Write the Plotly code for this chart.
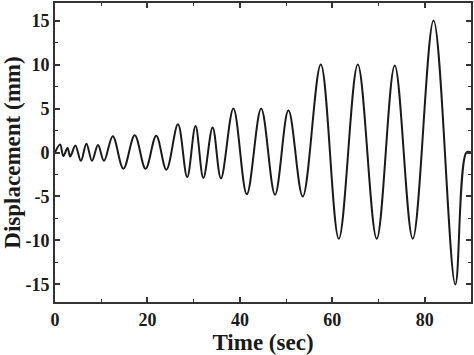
import plotly.graph_objects as go

# Extremes of the displacement history (time in sec, displacement in mm)
time_sec = [0.0, 1.1, 1.8, 2.7, 3.3, 4.4, 5.6, 6.8, 8.0, 9.3, 10.6,
            12.5, 14.8, 17.25, 19.6, 21.9, 24.1,
            26.6, 28.6, 30.4, 32.1, 34.1, 35.9,
            38.6, 41.5, 44.6, 47.6, 50.5, 53.6,
            57.5, 61.4, 65.5, 69.6, 73.5, 77.4,
            81.9, 86.6, 89.0, 90.0]
displacement_mm = [0.0, 0.9, -0.4, 0.5, -0.45, 0.8, -0.95, 1.0, -0.95, 0.85, -0.95,
                   1.85, -1.85, 1.95, -1.85, 1.9, -1.95,
                   3.2, -2.8, 3.0, -2.9, 2.85, -2.95,
                   5.0, -4.75, 5.0, -4.8, 4.8, -5.0,
                   10.0, -9.8, 10.0, -9.8, 9.9, -9.8,
                   15.0, -15.0, 0.0, 0.0]

x_ticks = [0, 20, 40, 60, 80]
x_tick_labels = ["0", "20", "40", "60", "80"]
y_ticks = [-15, -10, -5, 0, 5, 10, 15]
y_tick_labels = ["-15", "-10", "-5", "0", "5", "10", "15"]

font_family = "Liberation Serif, Times New Roman, serif"

fig = go.Figure()
fig.add_trace(go.Scatter(
    x=time_sec, y=displacement_mm, mode="lines",
    line=dict(color="#1a1a1a", width=2, shape="spline", smoothing=1.0),
    showlegend=False,
))

axis_common = dict(
    showgrid=False, zeroline=False,
    showline=True, linecolor="#333333", linewidth=2, mirror="ticks",
    ticks="inside", ticklen=5, tickwidth=1.5, tickcolor="#333333",
    tickfont=dict(family=font_family, size=18, color="#1a1a1a", weight="bold"),
)

fig.update_xaxes(
    range=[0, 90], tickvals=x_ticks, ticktext=x_tick_labels,
    minor=dict(dtick=10, tick0=0, ticks="inside", ticklen=3, tickwidth=1.2, tickcolor="#333333"),
    title=dict(text="Time (sec)", font=dict(family=font_family, size=23, color="#1a1a1a", weight="bold"), standoff=6),
    **axis_common,
)
fig.update_yaxes(
    range=[-17, 17], tickvals=y_ticks, ticktext=y_tick_labels,
    minor=dict(dtick=2.5, tick0=0, ticks="inside", ticklen=3, tickwidth=1.2, tickcolor="#333333"),
    title=dict(text="Displacement (mm)", font=dict(family=font_family, size=23, color="#1a1a1a", weight="bold"), standoff=3),
    **axis_common,
)

fig.update_layout(
    width=474, height=355,
    margin=dict(l=55, r=2, t=1, b=53),
    paper_bgcolor="white", plot_bgcolor="white",
)

fig.write_html("out.html")
